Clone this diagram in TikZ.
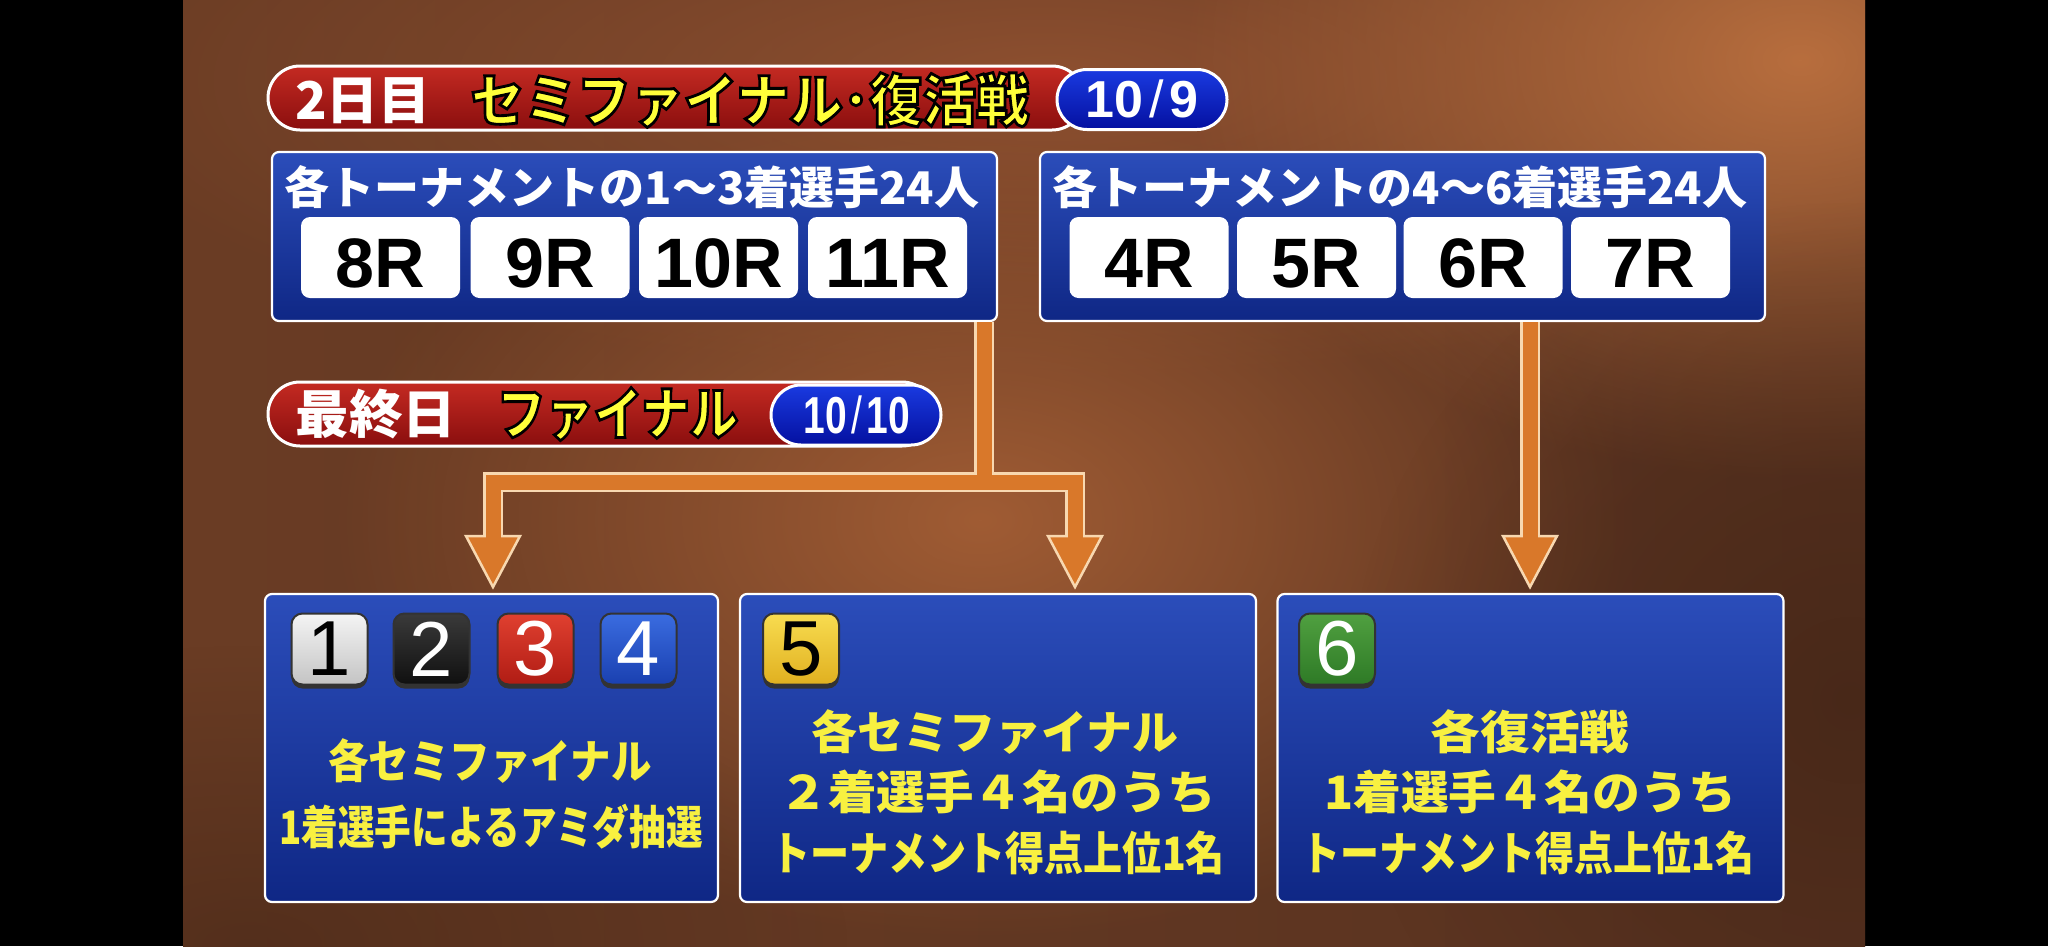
\documentclass[tikz,border=0pt]{standalone}
\usepackage{graphicx}
\usepackage{fontspec}
\setmainfont{Liberation Sans}
\newfontfamily\cjk{Noto Sans CJK JP}
\newfontfamily\cjkol{Noto Sans CJK JP}[FakeBold=5]
\usetikzlibrary{fadings}
\definecolor{bgL}{HTML}{6A3C24}
\definecolor{bgR}{HTML}{583220}
\definecolor{bgG}{HTML}{B86E3E}
\definecolor{bgC}{HTML}{A05C34}
\definecolor{bgT}{HTML}{8E5030}
\definecolor{bgD}{HTML}{3E2214}
\definecolor{bxT}{HTML}{2B4DBA}
\definecolor{bxB}{HTML}{0F2785}
\definecolor{rdT}{HTML}{C42A22}
\definecolor{rdB}{HTML}{8A0E0E}
\definecolor{blT}{HTML}{1A3AE0}
\definecolor{blB}{HTML}{0410A0}
\definecolor{hy}{HTML}{FFFF3A}
\definecolor{ty}{HTML}{F8F040}
\definecolor{org}{HTML}{D9782A}
\definecolor{cream}{HTML}{F8D8B0}
\definecolor{bgw1}{HTML}{F4F4F4}\definecolor{bgw2}{HTML}{C4C4C4}
\definecolor{bgk1}{HTML}{3A3A3A}\definecolor{bgk2}{HTML}{101010}
\definecolor{bgr1}{HTML}{E04030}\definecolor{bgr2}{HTML}{B01C14}
\definecolor{bgb1}{HTML}{3A6CE0}\definecolor{bgb2}{HTML}{1A40B0}
\definecolor{bgy1}{HTML}{F8DC50}\definecolor{bgy2}{HTML}{E0B020}
\definecolor{bgg1}{HTML}{50A040}\definecolor{bgg2}{HTML}{2E7A26}
\tikzfading[name=glowfade, inner color=transparent!0, outer color=transparent!100]
\newcommand\blackstroke{\special{pdf:code 0 0 0 RG}}
\newcommand\racefnt{\bfseries\fontsize{70}{80}\selectfont}
\newcommand\titlefnt{\cjk\bfseries\fontsize{45}{50}\selectfont}
\newcommand\bodyfnt{\cjk\bfseries\fontsize{46}{52}\selectfont}
\newcommand\badgefnt{\fontsize{78}{80}\selectfont}
\newcommand\datefnt{\bfseries\fontsize{52}{56}\selectfont}
\newcommand\headfnt{\cjk\bfseries\fontsize{52}{56}\selectfont}
\newcommand\headolfnt{\cjkol\bfseries\fontsize{57}{60}\selectfont}
\tikzset{
 bluebox/.style={draw=white, line width=2.2pt, rounded corners=7pt, top color=bxT, bottom color=bxB, inner sep=0pt},
 racebox/.style={fill=white, rounded corners=9pt, minimum width=159pt, minimum height=81pt, inner sep=0pt, font=\racefnt, text=black, text height=59pt, text depth=0pt},
 redpill/.style={draw=white, line width=3pt, rounded corners=32pt, top color=rdT, bottom color=rdB, minimum height=64pt, inner sep=0pt},
 bluepill/.style={draw=white, line width=3pt, rounded corners=30pt, top color=blT, bottom color=blB, minimum height=60pt, minimum width=170pt, inner sep=0pt},
 badge/.style 2 args={rounded corners=11pt, minimum width=76pt, minimum height=71pt, inner sep=0pt, top color=#1, bottom color=#2, draw=black!80, line width=2pt, font=\badgefnt, preaction={fill=black!80, transform canvas={yshift=-4pt}}},
 ttl/.style={text=white, font=\titlefnt, inner sep=0pt},
 yl/.style={text=ty, font=\bodyfnt, inner sep=0pt},
 armout/.style={draw=cream, line width=20pt, line join=miter},
 armin/.style={draw=org, line width=15pt, line join=miter},
 arhead/.style={fill=org, draw=cream, line width=2.5pt, line join=miter},
}
\begin{document}
\begin{tikzpicture}[x=1pt,y=-1pt]
\useasboundingbox (0,0) rectangle (2048,946);
\fill[black] (0,0) rectangle (2048,946);
\begin{scope}
\clip (183,0) rectangle (1865,946);
\shade[left color=bgL, right color=bgR] (183,0) rectangle (1865,946);
\fill[bgT, path fading=glowfade] (1050,80) ellipse (1000pt and 300pt);
\fill[bgC, path fading=glowfade] (980,520) ellipse (650pt and 420pt);
\fill[bgG, path fading=glowfade] (1800,60) ellipse (620pt and 420pt);
\fill[bgD, path fading=glowfade, opacity=0.6] (1850,700) ellipse (500pt and 500pt);
\fill[bgD, path fading=glowfade, opacity=0.5] (250,946) ellipse (600pt and 300pt);
\end{scope}

% header 1
\node[redpill, minimum width=816pt] (h1) at (676,98) {};
\node[bluepill] (d1) at (1142,99.5) {};
\node[text=white, font=\headfnt, inner sep=0pt] (h1a) at (363,101) {2日目};
\node[text=hy, inner sep=0pt] (h1b) at (750,100) {\blackstroke\headolfnt\scalebox{0.935}[1]{セミファイナル･復活戦}};
\node[text=white, font=\datefnt, inner sep=0pt] (d1t) at (1142,99) {10\hspace{6pt}{\mdseries/}\hspace{6pt}9};

% top boxes
\node[bluebox, minimum width=725pt, minimum height=169pt] (top1) at (634.5,236.5) {};
\node[bluebox, minimum width=725pt, minimum height=169pt] (top2) at (1402.5,236.5) {};
\node[ttl] (t1) at (632,187) {各トーナメントの1～3着選手24人};
\node[ttl] (t2) at (1400,187) {各トーナメントの4～6着選手24人};
\node[racebox] (r8) at (380.5,257.5) {8R};
\node[racebox] (r9) at (550,257.5) {9R};
\node[racebox] (r10) at (718.5,257.5) {10R};
\node[racebox] (r11) at (887.5,257.5) {11R};
\node[racebox] (r4) at (1149,257.5) {4R};
\node[racebox] (r5) at (1316.5,257.5) {5R};
\node[racebox] (r6) at (1483,257.5) {6R};
\node[racebox] (r7) at (1650.5,257.5) {7R};

% header 2
\node[redpill, minimum width=666pt] (h2) at (601,414) {};
\node[bluepill] (d2) at (856,415) {};
\node[text=white, font=\headfnt, inner sep=0pt] (h2a) at (376,414.5) {\scalebox{1.03}[1]{最終日}};
\node[text=hy, inner sep=0pt] (h2b) at (617.5,414) {\blackstroke\headolfnt\scalebox{0.85}[1]{ファイナル}};
\node[text=white, font=\datefnt, inner sep=0pt] (d2t) at (857,415) {\scalebox{0.75}[1]{10\hspace{6pt}{\mdseries/}\hspace{6pt}10}};

% bottom boxes
\node[bluebox, minimum width=453pt, minimum height=308pt] (bA) at (491.5,748) {};
\node[bluebox, minimum width=516pt, minimum height=308pt] (bB) at (998,748) {};
\node[bluebox, minimum width=506pt, minimum height=308pt] (bC) at (1530.5,748) {};

% arrows
\coordinate (jn) at (984,482);
\coordinate (aL) at (493,538);
\coordinate (aR) at (1075,538);
\coordinate (aC) at (1530,538);
\draw[armout] (top1.south -| jn) -- (jn);
\draw[armout] (aL) |- (jn) -| (aR);
\draw[armout] (top2.south -| aC) -- (aC);
\draw[arhead] (aL) ++(-27,-2) -- ++(54,0) -- ++(-27,51) -- cycle;
\draw[arhead] (aR) ++(-27,-2) -- ++(54,0) -- ++(-27,51) -- cycle;
\draw[arhead] (aC) ++(-27,-2) -- ++(54,0) -- ++(-27,51) -- cycle;
\draw[armin] (top1.south -| jn) -- (jn);
\draw[armin] (aL) |- (jn) -| (aR);
\draw[armin] (top2.south -| aC) -- (aC);

% badges
\node[badge={bgw1}{bgw2}, text=black] (n1) at (329.5,649) {1};
\node[badge={bgk1}{bgk2}, text=white] (n2) at (431.5,649) {2};
\node[badge={bgr1}{bgr2}, text=white] (n3) at (535.5,649) {3};
\node[badge={bgb1}{bgb2}, text=white] (n4) at (638.5,649) {4};
\node[badge={bgy1}{bgy2}, text=black] (n5) at (801,649) {5};
\node[badge={bgg1}{bgg2}, text=white] (n6) at (1337,649) {6};

% bottom texts
\node[yl] (a1) at (490,761) {\scalebox{0.88}[1]{各セミファイナル}};
\node[yl] (a2) at (491,827) {\scalebox{0.796}[1]{1着選手によるアミダ抽選}};
\node[yl] (b1) at (995,732) {各セミファイナル};
\node[yl] (b2) at (998,792) {\scalebox{1.055}[1]{２着選手４名のうち}};
\node[yl] (b3) at (998,853) {\scalebox{0.85}[1]{トーナメント得点上位1名}};
\node[yl] (c1) at (1530,732) {\scalebox{1.08}[1]{各復活戦}};
\node[yl] (c2) at (1530,792) {\scalebox{1.04}[1]{1着選手４名のうち}};
\node[yl] (c3) at (1528,853) {\scalebox{0.847}[1]{トーナメント得点上位1名}};
\end{tikzpicture}
\end{document}
